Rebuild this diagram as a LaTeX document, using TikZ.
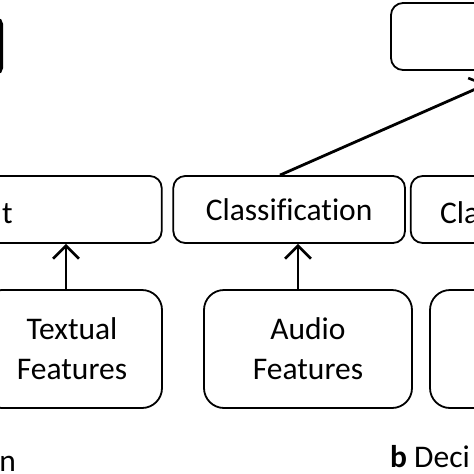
\documentclass[tikz,border=0pt]{standalone}
\usepackage{fontspec}
\setmainfont{Carlito}[Ligatures={NoCommon}]
\usetikzlibrary{arrows.meta}
\begin{document}
\begin{tikzpicture}[x=1pt,y=-1pt,
  box/.style={draw, line width=1.8pt, rounded corners=12pt, inner sep=0pt},
  fbox/.style={draw, line width=1.8pt, rounded corners=20pt, inner sep=0pt},
  lbl/.style={font=\fontsize{31.5}{40}\selectfont, inner sep=0pt, align=center},
  arr/.style={-{Straight Barb[length=13pt,width=26pt,line width=2.6pt]}, line width=2.8pt}]
\useasboundingbox (0,0) rectangle (474,474);
\clip (0,0) rectangle (474,474);
% top row
\node[draw, line width=3pt, rounded corners=5pt, minimum width=232pt, minimum height=54pt] (tl) at (-114.5,46) {};
\node[box, minimum width=232pt, minimum height=67pt] (top) at (507,36.5) {};
% classification row
\node[box, minimum width=231.7pt, minimum height=67pt] (cls1) at (45.85,209.5) {};
\node[box, minimum width=231.7pt, minimum height=67pt, lbl] (cls2) at (289.15,209.5) {Classification};
\node[box, minimum width=231.7pt, minimum height=67pt] (cls3) at (526.55,209.5) {};
\node[lbl, anchor=base east] (t1) at (13,223) {t};
\node[lbl, anchor=base west] (t3) at (440,223) {Cla};
% feature row
\node[fbox, minimum width=180pt, minimum height=118pt, lbl] (txt) at (72,349) {Textual\\Features};
\node[fbox, minimum width=208pt, minimum height=118pt, lbl] (aud) at (308,349) {Audio\\Features};
\node[fbox, minimum width=208pt, minimum height=118pt] (f3) at (534,349) {};
% arrows
\draw[arr] ([xshift=-6pt]txt.north) -- ([xshift=-6pt]txt.north |- cls1.south);
\draw[arr] ([xshift=-10pt]aud.north) -- ([xshift=-10pt]aud.north |- cls2.south);
\coordinate (tip) at (487,84);
\draw[arr] ([xshift=-9.15pt]cls2.north) -- (tip);
% captions
\node[lbl, anchor=base east] (capa) at (16,471) {n};
\node[lbl, anchor=base west] (capb) at (390,467) {\textbf{b} Deci};
\end{tikzpicture}
\end{document}
